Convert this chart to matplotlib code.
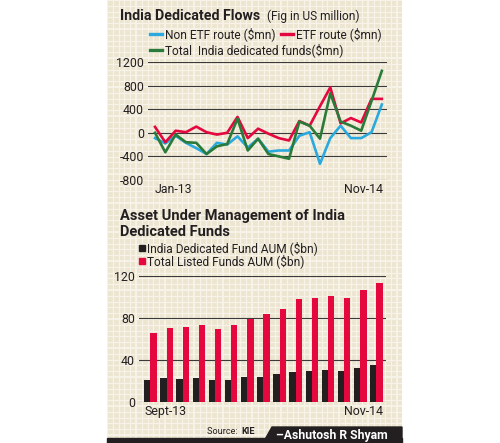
import numpy as np
import matplotlib
matplotlib.use("Agg")
import matplotlib.pyplot as plt
from matplotlib.lines import Line2D
from matplotlib.patches import Rectangle, Polygon

# monthly flows, Jan-13 .. Nov-14 ($mn)
flow_labels = ["Jan-13", "Nov-14"]
non_etf = [-90, -180, -50, -170, -260, -360, -170, -200, -60, -250, -100, -320,
           -300, -300, -50, 10, -525, -90, 120, -90, -90, 10, 480]
etf = [100, -160, 35, 10, 105, 10, -30, 0, 270, -90, 70, -15,
       -90, -130, 200, 120, 450, 770, 160, 250, 175, 575, 575]
total = [0, -330, -30, -160, -170, -360, -230, -190, 240, -300, -100, -360,
         -400, -440, 190, 120, -100, 670, 190, 120, 35, 540, 1050]
flow_ticks = [-800, -400, 0, 400, 800, 1200]

# AUM, Sept-13 .. Nov-14 ($bn)
aum_labels = ["Sept-13", "Nov-14"]
india_aum = [21.6, 23.2, 22.5, 23.2, 21.6, 21.6, 24.4, 24.4, 27.3, 29.2,
             30.2, 30.8, 30.2, 32.7, 35.6]
listed_aum = [65.7, 70.5, 71.7, 73.7, 69.5, 73.0, 79.0, 83.5, 88.3, 97.8,
              99.4, 101.3, 99.4, 107.0, 113.0]
aum_ticks = [0, 40, 80, 120]

BLUE = "#2aa9de"
RED = "#e4083f"
GREEN = "#2a7b3a"
INK = "#231f20"
PAPER = "#ece5d0"
PAPER_LINE = "#f7f3e8"

TITLE_FS = 10.2
TEXT_FS = 8.6
TICK_FS = 8.9

W, H = 500, 443
plt.rcParams["font.family"] = ["Roboto", "DejaVu Sans"]

fig = plt.figure(figsize=(W / 100, H / 100), dpi=100)
fig.patch.set_facecolor("white")


def fx(x):
    return x / W


def fy(y):
    return 1 - y / H


# grid paper background
bg = fig.add_axes([fx(107), fy(440), fx(402 - 107), (440) / H])
bg.set_xlim(0, 402 - 107)
bg.set_ylim(440, 0)
bg.set_facecolor(PAPER)
for i, v in enumerate(np.arange(0, 402 - 107, 5.8)):
    bg.axvline(v, color=PAPER_LINE, lw=0.9 if i % 5 else 1.4, zorder=0)
for i, v in enumerate(np.arange(0, 440, 5.8)):
    bg.axhline(v, color=PAPER_LINE, lw=0.9 if i % 5 else 1.4, zorder=0)
bg.set_xticks([])
bg.set_yticks([])
for s in bg.spines.values():
    s.set_visible(False)

# ---- line chart ----
ax1 = fig.add_axes([fx(148), fy(180), fx(387 - 148), (180 - 62) / H])
ax1.patch.set_visible(False)
x = np.arange(len(total))
ax1.plot(x, non_etf, color=BLUE, lw=1.9, zorder=3)
ax1.plot(x, etf, color=RED, lw=1.9, zorder=4)
ax1.plot(x, total, color=GREEN, lw=1.9, zorder=5)
ax1.set_xlim(-0.68, 22.5)
ax1.set_ylim(-800, 1200)
ax1.set_yticks(flow_ticks)
ax1.set_yticklabels([str(t) for t in flow_ticks])
for t in flow_ticks:
    ax1.axhline(t, color="#3a3a3a", lw=0.8, zorder=1)
ax1.set_xticks([])
ax1.tick_params(axis="y", length=0, pad=3, labelsize=TICK_FS, colors=INK)
for s in ax1.spines.values():
    s.set_visible(False)
ax1.text(0, -850, flow_labels[0], ha="left", va="top", fontsize=TICK_FS, color=INK)
ax1.text(len(total) - 1 + 0.1, -850, flow_labels[1], ha="right", va="top",
         fontsize=TICK_FS, color=INK)

fig.text(fx(120), fy(16), "India Dedicated Flows", fontsize=TITLE_FS,
         fontweight="bold", color=INK, va="center")
fig.text(fx(267), fy(16.5), "(Fig in US million)", fontsize=TEXT_FS, color=INK,
         va="center")

legend_rows = [
    (150, 34, BLUE, "Non ETF route ($mn)"),
    (281, 34, RED, "ETF route ($mn)"),
    (150, 50, GREEN, "Total  India dedicated funds($mn)"),
]
for lx, ly, c, lab in legend_rows:
    fig.add_artist(Line2D([fx(lx), fx(lx + 12)], [fy(ly), fy(ly)], color=c, lw=2.4))
    fig.text(fx(lx + 15), fy(ly), lab, fontsize=TEXT_FS, color=INK, va="center")

# ---- bar chart ----
ax2 = fig.add_axes([fx(139), fy(402.3), fx(386 - 139), (402.3 - 276) / H])
ax2.patch.set_visible(False)
xb = np.arange(len(india_aum))
bw = 0.39
ax2.bar(xb - bw / 2, india_aum, width=bw, color=INK, zorder=3)
ax2.bar(xb + bw / 2, listed_aum, width=bw, color=RED, zorder=3)
ax2.set_xlim(-0.71, 14.59)
ax2.set_ylim(0, 120)
ax2.set_yticks(aum_ticks)
for t in aum_ticks:
    ax2.axhline(t, color="#3a3a3a", lw=0.8, zorder=1)
ax2.set_xticks([])
ax2.tick_params(axis="y", length=0, pad=3, labelsize=TICK_FS, colors=INK)
for s in ax2.spines.values():
    s.set_visible(False)
ax2.text(-bw, -3, aum_labels[0], ha="left", va="top", fontsize=TICK_FS, color=INK)
ax2.text(len(india_aum) - 1 + bw, -3, aum_labels[1], ha="right", va="top",
         fontsize=TICK_FS, color=INK)

fig.text(fx(120), fy(216), "Asset Under Management of India", fontsize=10.5,
         fontweight="bold", color=INK, va="center")
fig.text(fx(120), fy(232), "Dedicated Funds", fontsize=10.5, fontweight="bold",
         color=INK, va="center")
for ly, c, lab in [(248, INK, "India Dedicated Fund AUM ($bn)"),
                   (261, RED, "Total Listed Funds AUM ($bn)")]:
    fig.add_artist(Rectangle((fx(139), fy(ly + 3)), fx(6), 6 / H, color=c,
                             transform=fig.transFigure))
    fig.text(fx(147), fy(ly), lab, fontsize=8.6, color=INK, va="center")

# ---- footer ----
fig.add_artist(Rectangle((fx(107), fy(443)), fx(402 - 107), 5 / H, color=INK,
                         transform=fig.transFigure))
fig.add_artist(Polygon([(fx(263), fy(443)), (fx(272), fy(427)), (fx(402), fy(427)),
                        (fx(402), fy(443))], closed=True, color=INK,
                       transform=fig.transFigure))
fig.text(fx(240), fy(432), "Source: ", fontsize=6.6, color=INK, ha="right",
         va="center")
fig.text(fx(241), fy(432), "KIE", fontsize=6.6, color=INK, fontweight="bold",
         va="center")
fig.text(fx(276), fy(435), "\u2013Ashutosh R Shyam", fontsize=8.8, color="white",
         fontweight="bold", va="center")

fig.savefig("out.png", dpi=100, facecolor="white")
